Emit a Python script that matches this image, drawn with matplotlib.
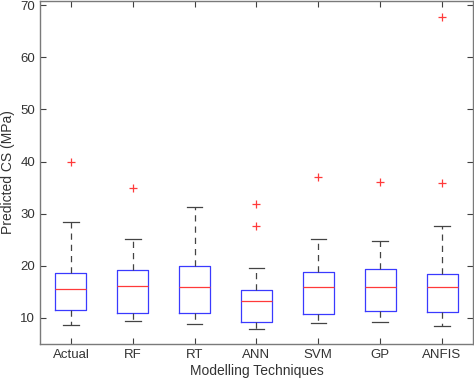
import matplotlib
matplotlib.use("Agg")
import matplotlib.pyplot as plt

plt.rcParams["font.family"] = ["Liberation Sans", "DejaVu Sans"]

# box statistics (MPa)
techniques = ["Actual", "RF", "RT", "ANN", "SVM", "GP", "ANFIS"]
whisker_low = [8.7, 9.5, 8.9, 7.9, 9.0, 9.3, 8.4]
q1 = [11.6, 10.9, 10.9, 9.2, 10.7, 11.4, 11.1]
median = [15.6, 16.2, 15.9, 13.3, 16.0, 15.9, 15.9]
q3 = [18.7, 19.2, 20.0, 15.3, 18.9, 19.3, 18.4]
whisker_high = [28.5, 25.2, 31.2, 19.5, 25.1, 24.8, 27.7]
outliers = [[39.9], [34.9], [], [31.9, 27.6], [37.0], [36.1], [67.7, 35.9]]

stats = []
for i, name in enumerate(techniques):
    stats.append({
        "label": name,
        "whislo": whisker_low[i],
        "q1": q1[i],
        "med": median[i],
        "q3": q3[i],
        "whishi": whisker_high[i],
        "fliers": outliers[i],
    })

axis_grey = "#404040"

fig = plt.figure(figsize=(4.74, 3.87), dpi=100)
ax = fig.add_axes([40 / 474, 43 / 387, 433 / 474, 343 / 387])

ax.bxp(
    stats,
    positions=range(1, len(techniques) + 1),
    widths=0.5,
    boxprops=dict(color="#3a3aff", linewidth=0.9),
    medianprops=dict(color="#ff3a3a", linewidth=0.9),
    whiskerprops=dict(color="#444444", linestyle=(0, (5, 4)), linewidth=0.9),
    capprops=dict(color="#444444", linewidth=0.9),
    capwidths=0.25,
    flierprops=dict(marker="+", markeredgecolor="#ff3a3a", markersize=5.5,
                    markeredgewidth=0.9, linestyle="none"),
)

ax.set_xlim(0.5, 7.5)
ax.set_ylim(5, 70.8)
ax.set_yticks([10, 20, 30, 40, 50, 60, 70])
ax.set_xticks(range(1, len(techniques) + 1))
ax.set_xticklabels(techniques)

ax.tick_params(direction="in", top=True, right=True, length=4,
               color=axis_grey, labelcolor="#333333", labelsize=9.5, width=0.8)
for sp in ax.spines.values():
    sp.set_color("#7a7a7a")
    sp.set_linewidth(1.0)

ax.set_xlabel("Modelling Techniques", fontsize=10, color="#333333", labelpad=2)
ax.set_ylabel("Predicted CS (MPa)", fontsize=10, color="#333333", labelpad=4)

fig.savefig("out.png", dpi=100)
plt.close(fig)
